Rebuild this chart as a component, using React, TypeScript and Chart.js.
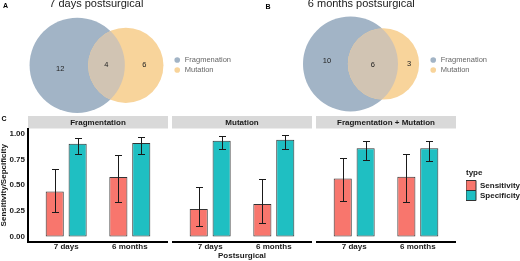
import React, { useEffect, useRef } from 'react';
import { Chart, registerables } from 'chart.js';

Chart.register(...registerables);

const FONT = "'Liberation Sans', Arial, Helvetica, sans-serif";
Chart.defaults.font.family = FONT;

// ---------------- Venn data ----------------
const vennSetNames = ['Fragmenation', 'Mutation'];
const vennColors = ['#a2b4c6', '#f8d49b'];
const vennOverlapColor = '#d1c4b3';
// region counts: [only first set, both, only second set]
const venn7dCounts = [12, 4, 6];
const venn6mCounts = [10, 6, 3];
const venn7dCenterX = [0, 4.08];
const venn6mCenterX = [0, 2.78];
const venn7dLabelX = [-1.43, 2.44, 5.64];
const venn7dLabelY = [-0.29, 0.0, 0.07];
const venn6mLabelX = [-1.98, 1.89, 4.93];
const venn6mLabelY = [0.25, -0.11, -0.03];

// ---------------- Bar data ----------------
const panelNames = ['Fragmentation', 'Mutation', 'Fragmentation + Mutation'];
const timepoints = ['7 days', '6 months'];
const typeNames = ['Sensitivity', 'Specificity'];
const typeColors = ['#f8766d', '#1fbfc2'];
const yTickValues = [0, 0.25, 0.5, 0.75, 1];

const fragSens = [0.44, 0.58];
const fragSensLow = [0.235, 0.336];
const fragSensHigh = [0.655, 0.798];
const fragSpec = [0.906, 0.912];
const fragSpecLow = [0.808, 0.808];
const fragSpecHigh = [0.965, 0.969];

const mutSens = [0.267, 0.316];
const mutSensLow = [0.105, 0.127];
const mutSensHigh = [0.486, 0.563];
const mutSpec = [0.935, 0.945];
const mutSpecLow = [0.851, 0.854];
const mutSpecHigh = [0.984, 0.988];

const comboSens = [0.567, 0.583];
const comboSensLow = [0.348, 0.336];
const comboSensHigh = [0.769, 0.802];
const comboSpec = [0.861, 0.861];
const comboSpecLow = [0.746, 0.740];
const comboSpecHigh = [0.935, 0.935];

const panelValues = [
  [fragSens, fragSpec],
  [mutSens, mutSpec],
  [comboSens, comboSpec],
];
const panelLows = [
  [fragSensLow, fragSpecLow],
  [mutSensLow, mutSpecLow],
  [comboSensLow, comboSpecLow],
];
const panelHighs = [
  [fragSensHigh, fragSpecHigh],
  [mutSensHigh, mutSpecHigh],
  [comboSensHigh, comboSpecHigh],
];

// ---------------- plugins ----------------
function makeVennPlugin(counts: number[], labelX: number[], labelY: number[]) {
  return {
    id: 'vennCircles',
    beforeDatasetsDraw(chart: any) {
      const { ctx } = chart;
      const xs = chart.scales.x;
      const ys = chart.scales.y;
      const circles = chart.data.datasets.map((ds: any) => {
        const p = ds.data[0];
        const cx = xs.getPixelForValue(p.x);
        const cy = ys.getPixelForValue(p.y);
        const r = xs.getPixelForValue(p.x + p.r) - cx;
        return { cx, cy, r, color: ds.backgroundColor };
      });
      ctx.save();
      circles.forEach((c: any) => {
        ctx.beginPath();
        ctx.arc(c.cx, c.cy, c.r, 0, Math.PI * 2);
        ctx.fillStyle = c.color;
        ctx.fill();
      });
      ctx.beginPath();
      ctx.arc(circles[0].cx, circles[0].cy, circles[0].r, 0, Math.PI * 2);
      ctx.clip();
      ctx.beginPath();
      ctx.arc(circles[1].cx, circles[1].cy, circles[1].r, 0, Math.PI * 2);
      ctx.fillStyle = vennOverlapColor;
      ctx.fill();
      ctx.restore();

      ctx.save();
      ctx.font = `7.5px ${FONT}`;
      ctx.fillStyle = '#222222';
      ctx.textAlign = 'center';
      ctx.textBaseline = 'middle';
      counts.forEach((n, i) => {
        ctx.fillText(String(n), xs.getPixelForValue(labelX[i]), ys.getPixelForValue(labelY[i]));
      });
      ctx.restore();
    },
  };
}

function makeStripPlugin(text: string) {
  return {
    id: 'facetStrip',
    beforeDraw(chart: any) {
      const { ctx, chartArea } = chart;
      const { left, right, top } = chartArea;
      ctx.save();
      ctx.fillStyle = '#d9d9d9';
      ctx.fillRect(left, top - 13, right - left, 12.5);
      ctx.fillStyle = '#1a1a1a';
      ctx.font = `bold 8px ${FONT}`;
      ctx.textAlign = 'center';
      ctx.textBaseline = 'middle';
      ctx.fillText(text, (left + right) / 2, top - 6.5);
      ctx.restore();
    },
  };
}

const errorBarPlugin = {
  id: 'errorBars',
  afterDatasetsDraw(chart: any) {
    const { ctx } = chart;
    const ys = chart.scales.y;
    ctx.save();
    ctx.strokeStyle = '#1a1a1a';
    ctx.lineWidth = 1;
    chart.data.datasets.forEach((ds: any, i: number) => {
      const meta = chart.getDatasetMeta(i);
      meta.data.forEach((bar: any, j: number) => {
        const x = Math.round(bar.x) + 0.5;
        const lo = Math.round(ys.getPixelForValue(ds.errLow[j])) + 0.5;
        const hi = Math.round(ys.getPixelForValue(ds.errHigh[j])) + 0.5;
        ctx.beginPath();
        ctx.moveTo(x, lo);
        ctx.lineTo(x, hi);
        ctx.moveTo(x - 3.5, lo);
        ctx.lineTo(x + 3.5, lo);
        ctx.moveTo(x - 3.5, hi);
        ctx.lineTo(x + 3.5, hi);
        ctx.stroke();
      });
    });
    ctx.restore();
  },
};

// ---------------- configs ----------------
function vennConfig(
  counts: number[],
  centerX: number[],
  labelX: number[],
  labelY: number[],
  xMin: number,
  xMax: number,
  yMin: number,
  yMax: number
): any {
  const sizes = [counts[0] + counts[1], counts[1] + counts[2]];
  return {
    type: 'scatter',
    data: {
      datasets: vennSetNames.map((name, i) => ({
        label: name,
        data: [{ x: centerX[i], y: 0, r: Math.sqrt(sizes[i]) }],
        backgroundColor: vennColors[i],
        borderColor: vennColors[i],
        borderWidth: 0,
        pointRadius: 0,
        pointHoverRadius: 0,
        pointStyle: 'circle',
      })),
    },
    options: {
      responsive: false,
      maintainAspectRatio: false,
      animation: false,
      events: [],
      layout: { padding: 0, autoPadding: false },
      scales: {
        x: { type: 'linear', display: false, min: xMin, max: xMax },
        y: { type: 'linear', display: false, min: yMin, max: yMax },
      },
      plugins: {
        tooltip: { enabled: false },
        title: { display: false },
        legend: {
          position: 'right',
          align: 'center',
          labels: {
            usePointStyle: true,
            boxWidth: 7.5,
            boxHeight: 4,
            padding: 2.5,
            color: '#666666',
            font: { size: 7.5 },
          },
        },
      },
    },
    plugins: [makeVennPlugin(counts, labelX, labelY)],
  };
}

function barConfig(p: number): any {
  const first = p === 0;
  const middle = p === 1;
  return {
    type: 'bar',
    data: {
      datasets: typeNames.map((t, i) => ({
        label: t,
        data: timepoints.map((_, j) => ({ x: j + 1, y: panelValues[p][i][j] })),
        errLow: panelLows[p][i],
        errHigh: panelHighs[p][i],
        backgroundColor: typeColors[i],
        borderColor: '#333333',
        borderWidth: 1,
        borderSkipped: false,
        categoryPercentage: 0.72,
        barPercentage: 0.79,
      })),
    },
    options: {
      responsive: false,
      maintainAspectRatio: false,
      animation: false,
      events: [],
      layout: { padding: { top: 17, left: 0, right: 0, bottom: 0 }, autoPadding: false },
      plugins: {
        legend: { display: false },
        tooltip: { enabled: false },
        title: { display: false },
      },
      scales: {
        x: {
          type: 'linear',
          min: 0.4,
          max: 2.6,
          offset: false,
          afterBuildTicks: (s: any) => {
            s.ticks = timepoints.map((_, j) => ({ value: j + 1 }));
          },
          afterFit: (s: any) => {
            s.height = 19.5;
          },
          grid: { display: false, drawTicks: false },
          border: { display: true, color: '#000000', width: 2 },
          ticks: {
            callback: (v: any) => timepoints[Math.round(Number(v)) - 1] ?? '',
            font: { size: 8, weight: 'bold', lineHeight: 1 },
            color: '#1a1a1a',
            padding: 1.5,
            maxRotation: 0,
            autoSkip: false,
          },
          title: {
            display: middle,
            text: 'Postsurgical',
            font: { size: 8, weight: 'bold', lineHeight: 1 },
            color: '#1a1a1a',
            padding: { top: 0, bottom: 1 },
          },
        },
        y: {
          type: 'linear',
          display: first,
          min: -0.05,
          max: 1.05,
          afterBuildTicks: (s: any) => {
            s.ticks = yTickValues.map((v) => ({ value: v }));
          },
          afterFit: (s: any) => {
            s.width = first ? 28 : 0;
          },
          grid: { display: false, drawTicks: false },
          border: { display: true, color: '#000000', width: 2 },
          ticks: {
            callback: (v: any) => Number(v).toFixed(2),
            font: { size: 8, weight: 'bold', lineHeight: 1 },
            color: '#1a1a1a',
            padding: 3,
          },
          title: {
            display: true,
            text: 'Sensitivity/Sepcificity',
            font: { size: 8, weight: 'bold', lineHeight: 1 },
            color: '#1a1a1a',
            padding: 0,
          },
        },
      },
    },
    plugins: [makeStripPlugin(panelNames[p]), errorBarPlugin],
  };
}

function legendConfig(): any {
  return {
    type: 'bar',
    data: {
      labels: [],
      datasets: typeNames.map((t, i) => ({
        label: t,
        data: [],
        backgroundColor: typeColors[i],
        borderColor: '#333333',
        borderWidth: 1,
      })),
    },
    options: {
      responsive: false,
      maintainAspectRatio: false,
      animation: false,
      events: [],
      layout: { padding: 0, autoPadding: false },
      scales: { x: { display: false }, y: { display: false } },
      plugins: {
        tooltip: { enabled: false },
        legend: {
          position: 'left',
          align: 'center',
          maxWidth: 54,
          title: {
            display: true,
            text: 'type',
            position: 'start',
            color: '#1a1a1a',
            font: { size: 8, weight: 'bold', lineHeight: 1.2 },
            padding: { top: 0, bottom: 2.4 },
          },
          labels: {
            boxWidth: 10,
            boxHeight: 10,
            padding: 0,
            color: '#1a1a1a',
            font: { size: 8, weight: 'bold' },
          },
        },
      },
    },
  };
}

// ---------------- components ----------------
function ChartCanvas(props: { make: () => any; left: number; top: number; width: number; height: number }) {
  const ref = useRef<HTMLCanvasElement | null>(null);
  useEffect(() => {
    if (!ref.current) return;
    const chart = new Chart(ref.current, props.make());
    return () => chart.destroy();
  }, []);
  return (
    <canvas
      ref={ref}
      width={props.width}
      height={props.height}
      style={{ position: 'absolute', left: props.left, top: props.top, width: props.width, height: props.height }}
    />
  );
}

const textBase: React.CSSProperties = { position: 'absolute', whiteSpace: 'nowrap', fontFamily: FONT };

export default function App() {
  useEffect(() => {
    document.body.style.margin = '0';
  }, []);
  return (
    <div style={{ position: 'absolute', left: 0, top: 0, width: 520, height: 261, background: '#ffffff', overflow: 'hidden' }}>
      <ChartCanvas
        make={() => vennConfig(venn7dCounts, venn7dCenterX, venn7dLabelX, venn7dLabelY, -6.484, 7.874, -5.45, 5.5)}
        left={0}
        top={0}
        width={241}
        height={130}
      />
      <ChartCanvas
        make={() => vennConfig(venn6mCounts, venn6mCenterX, venn6mLabelX, venn6mLabelY, -7.621, 6.442, -5.56, 5.39)}
        left={260}
        top={0}
        width={237}
        height={130}
      />
      <div style={{ ...textBase, left: 3, top: 2.4, fontSize: 7, lineHeight: '7px', fontWeight: 'bold', color: '#000' }}>A</div>
      <div style={{ ...textBase, left: 265.5, top: 2.8, fontSize: 7, lineHeight: '7px', fontWeight: 'bold', color: '#000' }}>B</div>
      <div style={{ ...textBase, left: 1.5, top: 115, fontSize: 7, lineHeight: '7px', fontWeight: 'bold', color: '#000' }}>C</div>
      <div style={{ ...textBase, left: 96.3 - 100, width: 200, textAlign: 'center', top: -1.8, fontSize: 11, lineHeight: '11px', color: '#1a1a1a' }}>
        7 days postsurgical
      </div>
      <div style={{ ...textBase, left: 361.3 - 100, width: 200, textAlign: 'center', top: -1.8, fontSize: 11, lineHeight: '11px', color: '#1a1a1a' }}>
        6 months postsurgical
      </div>
      <ChartCanvas make={() => barConfig(0)} left={0} top={112} width={168} height={149} />
      <ChartCanvas make={() => barConfig(1)} left={172} top={112} width={140} height={149} />
      <ChartCanvas make={() => barConfig(2)} left={316} top={112} width={140} height={149} />
      <ChartCanvas make={() => legendConfig()} left={466} top={112} width={54} height={145} />
    </div>
  );
}
